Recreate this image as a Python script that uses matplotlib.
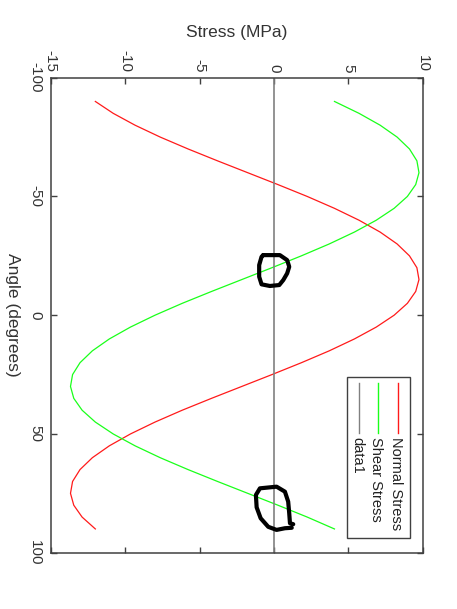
import numpy as np
import matplotlib.pyplot as plt
from matplotlib.patches import Rectangle

plt.rcParams['font.family'] = ['Liberation Sans', 'DejaVu Sans']
plt.rcParams['axes.unicode_minus'] = False

# ------------------------------------------------------------------
# Dane (kąt w stopniach, naprężenia w MPa)
# ------------------------------------------------------------------
angle = [-90, -85, -80, -75, -70, -65, -60, -55, -50, -45, -40, -35, -30,
         -25, -20, -15, -10, -5, 0, 5, 10, 15, 20, 25, 30, 35, 40, 45,
         50, 55, 60, 65, 70, 75, 80, 85, 90]
normal_stress = [-12.00, -10.80, -9.33, -7.64, -5.77, -3.79, -1.76, 0.27,
                 2.24, 4.07, 5.72, 7.14, 8.28, 9.11, 9.61, 9.75, 9.53, 8.97,
                 8.08, 6.88, 5.41, 3.72, 1.85, -0.13, -2.16, -4.19, -6.16,
                 -7.99, -9.64, -11.06, -12.20, -13.03, -13.53, -13.67,
                 -13.45, -12.89, -12.00]
shear_stress = [4.07, 5.72, 7.14, 8.28, 9.11, 9.61, 9.75, 9.53, 8.97, 8.08,
                6.88, 5.41, 3.72, 1.85, -0.13, -2.16, -4.19, -6.16, -7.99,
                -9.64, -11.06, -12.20, -13.03, -13.53, -13.67, -13.45,
                -12.89, -12.00, -10.80, -9.33, -7.64, -5.77, -3.79, -1.76,
                0.27, 2.24, 4.07]

# linia zerowa (data1)
zero_angle = [-100, 100]
zero_stress = [0, 0]

stress_ticks = [-15, -10, -5, 0, 5, 10]
angle_ticks = [-100, -50, 0, 50, 100]

# odręczne kółka (adnotacje) - (naprężenie, kąt)
scribble1_s = [-0.72, 0.40, 0.89, 1.03, 0.89, 0.63, 0.36, -0.27, -0.83,
               -0.99, -0.99, -0.83, -0.72]
scribble1_a = [-25.3, -25.3, -23.2, -20.4, -17.6, -14.8, -12.7, -12.3,
               -13.0, -16.2, -21.1, -24.6, -25.3]
scribble2_s = [1.20, 0.74, 0.18, -0.38, -0.89, -1.16, -1.21, -0.94, 0.18,
               0.74, 0.96, 1.03, 1.08, 1.30]
scribble2_a = [89.5, 89.7, 90.4, 89.1, 85.5, 80.9, 75.7, 72.9, 72.2, 74.3,
               78.5, 83.4, 87.6, 88.0]

# ------------------------------------------------------------------
# Wykres (obrócony o 90 stopni)
# ------------------------------------------------------------------
fig = plt.figure(figsize=(4.57, 6.09), dpi=100)
ax = fig.add_axes([50.7 / 457, 1 - 552.7 / 609, 372 / 457, 475 / 609])

frame_col = '#404040'
ax.plot(normal_stress, angle, color='#ff1a1a', lw=0.9)
ax.plot(shear_stress, angle, color='#1aff1a', lw=0.9)
ax.plot(zero_stress, zero_angle, color='#808080', lw=1.2)

for s, a in [(scribble1_s, scribble1_a), (scribble2_s, scribble2_a)]:
    ax.plot(s, a, color='black', lw=3, solid_capstyle='round',
            solid_joinstyle='round')

ax.set_xlim(-15, 10)
ax.set_ylim(100, -100)
ax.set_xticks(stress_ticks)
ax.set_yticks(angle_ticks)
ax.xaxis.tick_top()
ax.tick_params(axis='both', direction='in', length=4, width=1.0,
               color=frame_col, labelcolor='#333333', labelsize=11,
               top=True, bottom=True, left=True, right=True)
ax.tick_params(axis='x', pad=4)
ax.tick_params(axis='y', pad=6)
for t in ax.get_xticklabels():
    t.set_rotation(-90)
for t in ax.get_yticklabels():
    t.set_rotation(-90)
    t.set_va('center')
for sp in ax.spines.values():
    sp.set_color(frame_col)
    sp.set_linewidth(1.1)

fig.text(236.7 / 457, 1 - 33 / 609, 'Stress (MPa)', fontsize=12.5,
         color='#333333', ha='center', va='center')
fig.text(12 / 457, 1 - 315 / 609, 'Angle (degrees)', fontsize=12.5,
         color='#333333', ha='center', va='center', rotation=-90)

# legenda rysowana ręcznie (obrócona)
ax.add_patch(Rectangle((0.796, 0.030), 0.170, 0.339, transform=ax.transAxes,
                       facecolor='white', edgecolor=frame_col, lw=1.0,
                       zorder=5))
legend_items = [('Normal Stress', '#ff1a1a', 0.934),
                ('Shear Stress', '#1aff1a', 0.880),
                ('data1', '#808080', 0.829)]
for label, col, xf in legend_items:
    ax.plot([xf, xf], [0.357, 0.252], color=col, lw=1.0,
            transform=ax.transAxes, zorder=6)
    ax.text(xf - 0.005, 0.243, label, transform=ax.transAxes, rotation=-90,
            ha='center', va='top', fontsize=10.5, color='#222222', zorder=6)

plt.savefig('out.png', dpi=100)
plt.close()
